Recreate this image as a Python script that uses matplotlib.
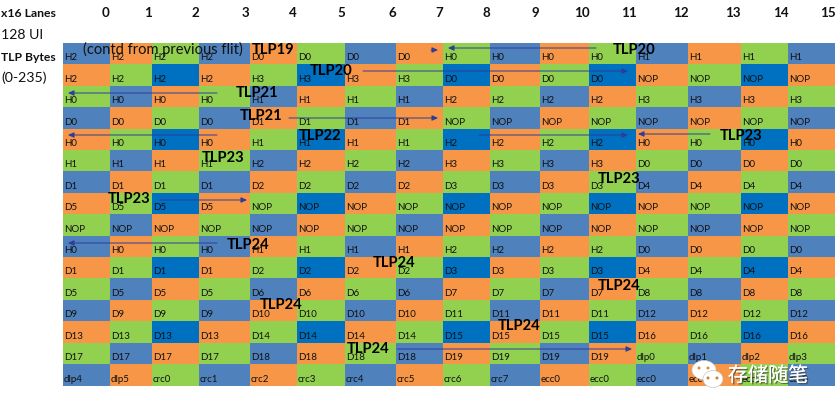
import numpy as np
import matplotlib
matplotlib.use('Agg')
import matplotlib.pyplot as plt
import matplotlib.patheffects as pe
from matplotlib.colors import ListedColormap
from matplotlib.patches import Ellipse

plt.rcParams['font.family'] = ['Lato', 'DejaVu Sans']

# Lane numbers and flit contents
lanes = ['0', '1', '2', '3', '4', '5', '6', '7', '8', '9', '10', '11', '12', '13', '14', '15']
side_labels = ['x16 Lanes', '128 UI', 'TLP Bytes', '(0-235)']

cells = [
    'H2 H2 H2 H2 D0 D0 D0 D0 H0 H0 H0 H0 H1 H1 H1 H1',
    'H2 H2 H2 H2 H3 H3 H3 H3 D0 D0 D0 D0 NOP NOP NOP NOP',
    'H0 H0 H0 H0 H1 H1 H1 H1 H2 H2 H2 H2 H3 H3 H3 H3',
    'D0 D0 D0 D0 D1 D1 D1 D1 NOP NOP NOP NOP NOP NOP NOP NOP',
    'H0 H0 H0 H0 H1 H1 H1 H1 H2 H2 H2 H2 H0 H0 H0 H0',
    'H1 H1 H1 H1 H2 H2 H2 H2 H3 H3 H3 H3 D0 D0 D0 D0',
    'D1 D1 D1 D1 D2 D2 D2 D2 D3 D3 D3 D3 D4 D4 D4 D4',
    'D5 D5 D5 D5 NOP NOP NOP NOP NOP NOP NOP NOP NOP NOP NOP NOP',
    'NOP NOP NOP NOP NOP NOP NOP NOP NOP NOP NOP NOP NOP NOP NOP NOP',
    'H0 H0 H0 H0 H1 H1 H1 H1 H2 H2 H2 H2 D0 D0 D0 D0',
    'D1 D1 D1 D1 D2 D2 D2 D2 D3 D3 D3 D3 D4 D4 D4 D4',
    'D5 D5 D5 D5 D6 D6 D6 D6 D7 D7 D7 D7 D8 D8 D8 D8',
    'D9 D9 D9 D9 D10 D10 D10 D10 D11 D11 D11 D11 D12 D12 D12 D12',
    'D13 D13 D13 D13 D14 D14 D14 D14 D15 D15 D15 D15 D16 D16 D16 D16',
    'D17 D17 D17 D17 D18 D18 D18 D18 D19 D19 D19 D19 dlp0 dlp1 dlp2 dlp3',
    'dlp4 dlp5 crc0 crc1 crc2 crc3 crc4 crc5 crc6 crc7 ecc0 ecc0 ecc0 ecc0 ecc0 ecc0',
]

# text, centre x, centre y
tlp_names = [
    ('TLP19', 273, 50), ('TLP20', 634, 50), ('TLP20', 331, 71), ('TLP21', 257, 93),
    ('TLP21', 261, 116), ('TLP22', 320, 136), ('TLP23', 741, 136), ('TLP23', 223, 158),
    ('TLP23', 619, 179), ('TLP23', 129, 199), ('TLP24', 248, 245), ('TLP24', 394, 263),
    ('TLP24', 619, 286), ('TLP24', 281, 305), ('TLP24', 519, 326), ('TLP24', 368, 349),
]

# tail x, head x, y
arrows = [
    (431, 438, 50), (596, 448, 48), (363, 628, 71), (217, 68, 93), (289, 438, 118),
    (217, 68, 135), (479, 628, 135), (710, 638, 134), (160, 247, 200), (217, 68, 243),
    (397, 632, 349),
]

# picture layout, the columns are not all the same width
col_edges = [63, 110, 152, 199, 250, 297, 345, 396, 443, 490, 540, 589, 636, 688, 741, 788, 835]
row_edges = [43, 64, 86, 107, 129, 150, 171, 193, 214, 236, 257, 278, 300, 321, 343, 364, 386]
lane_x = [106, 148, 195, 245, 293, 341, 392, 439, 486, 535, 582, 629, 681, 733, 781, 828]
side_y = [13, 35, 57, 78]
side_weight = ['bold', 'normal', 'bold', 'normal']
side_size = [8.8, 10.2, 8.7, 10.2]

palette = ['#4F81BD', '#F79646', '#92D050', '#0070C0']
row_cycles = [[0, 1, 2], [1, 2, 3], [2, 0, 1]]
colour_idx = np.array([[row_cycles[r % 3][c % 3] for c in range(16)] for r in range(16)])

fig = plt.figure(figsize=(8.35, 4.12), dpi=100)
ax = fig.add_axes([0, 0, 1, 1])
ax.pcolormesh(col_edges, row_edges, colour_idx, cmap=ListedColormap(palette), vmin=0, vmax=3)
ax.set_xlim(0, 835)
ax.set_ylim(412, 0)
ax.axis('off')

for text, y, weight, size in zip(side_labels, side_y, side_weight, side_size):
    ax.text(1, y, text, fontsize=size, fontweight=weight, va='center', ha='left', color='#111111')
for label, x in zip(lanes, lane_x):
    ax.text(x, 13, label, fontsize=9.6, fontweight='bold', va='center', ha='center', color='#111111')

for r, row in enumerate(cells):
    for c, label in enumerate(row.split()):
        ax.text(col_edges[c] + 1, row_edges[r + 1] - 2, label, fontsize=7, va='bottom', ha='left', color='#111111')

ax.text(83, 49, '(contd from previous flit)', fontsize=10.5, va='center', ha='left', color='#111111')

for tail, head, y in arrows:
    ax.annotate('', xy=(head, y), xytext=(tail, y),
                arrowprops=dict(arrowstyle='-|>,head_width=0.16,head_length=0.35', color='#2F3C9A', lw=0.7, shrinkA=0, shrinkB=0))

for text, x, y in tlp_names:
    ax.text(x, y, text, fontsize=10.6, fontweight='bold', va='center', ha='center', color='black')

# wechat style watermark
ax.add_patch(Ellipse((704, 370), 24, 19, fc='white', ec='#cccccc', lw=0.4, zorder=5))
ax.add_patch(Ellipse((713, 379), 20, 17, fc='white', ec='#bbbbbb', lw=0.4, zorder=5))
for ex, ey, ec in [(699, 368, '#e08a3c'), (708, 368, '#e08a3c'), (708, 378, '#c9822f'), (717, 378, '#c9822f')]:
    ax.add_patch(Ellipse((ex, ey), 3, 3, fc=ec, ec='none', zorder=6))
ax.text(768, 376, '存储随笔', fontsize=14.5, family=['Noto Sans CJK SC', 'DejaVu Sans'], color='white',
        va='center', ha='center', zorder=6,
        path_effects=[pe.withSimplePatchShadow(offset=(1, -1), shadow_rgbFace='#444444', alpha=0.7), pe.Normal()])

fig.savefig('out.png', dpi=100)
